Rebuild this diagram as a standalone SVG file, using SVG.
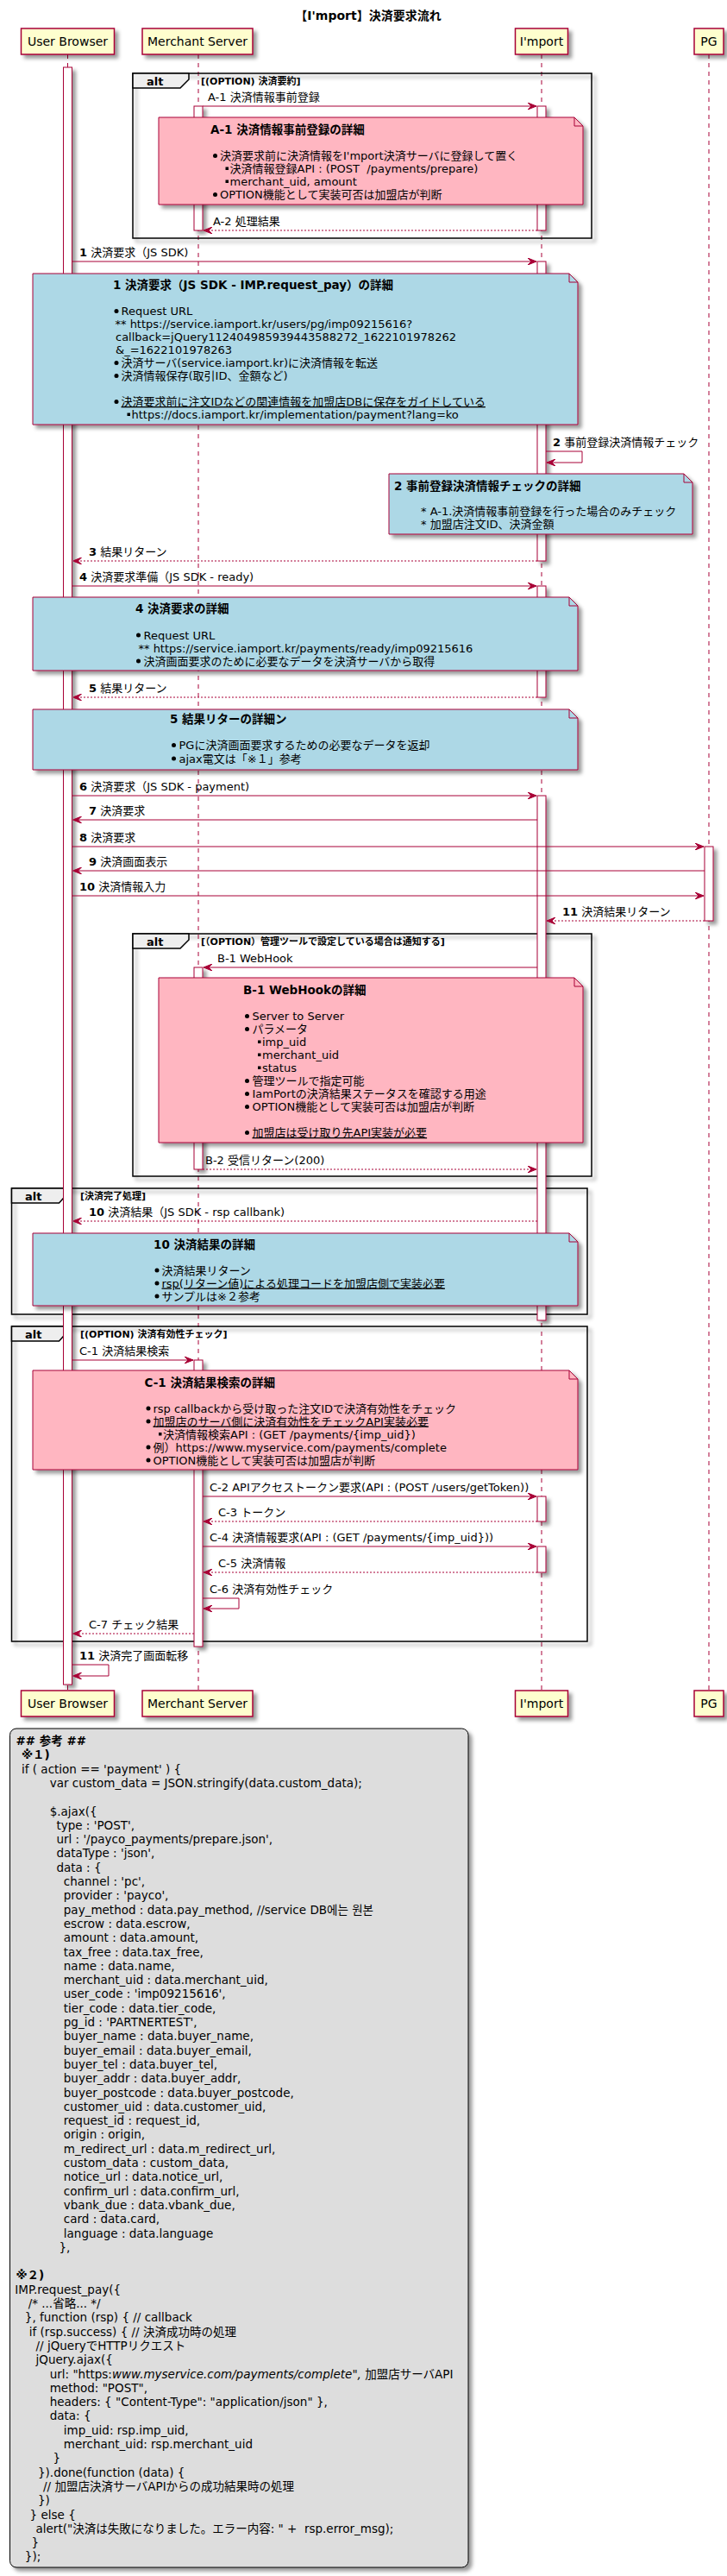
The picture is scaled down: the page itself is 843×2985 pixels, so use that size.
<svg xmlns="http://www.w3.org/2000/svg" width="843" height="2985" viewBox="0 0 843 2985">
<defs>
<filter id="sh" x="-1" y="-1" width="300%" height="300%">
<feGaussianBlur result="b1" stdDeviation="2"/>
<feColorMatrix in="b1" result="b2" type="matrix" values="0 0 0 0 0 0 0 0 0 0 0 0 0 0 0 0 0 0 .4 0"/>
<feOffset dx="4" dy="4" in="b2" result="b3"/>
<feBlend in="SourceGraphic" in2="b3" mode="normal"/>
</filter>
<marker id="ah" viewBox="0 0 10 8" refX="10" refY="4" markerWidth="10" markerHeight="8" markerUnits="userSpaceOnUse" orient="auto">
<path d="M0,0 L10,4 L0,8 L4,4 Z" fill="#A80036" stroke="#A80036" stroke-width="1"/>
</marker>
</defs>
<style>
text{font-family:"DejaVu Sans","Noto Sans CJK JP",sans-serif;font-size:13px;fill:#000}
.title{font-size:14px;font-weight:bold}
.pbox{fill:#FEFECE;stroke:#A80036;stroke-width:1.5;filter:url(#sh)}
.pt{font-size:14px;text-anchor:middle}
.life{stroke:#A80036;stroke-width:1;stroke-dasharray:5,5}
.act{fill:#FFFFFF;stroke:#A80036;stroke-width:1;filter:url(#sh)}
.msg{stroke:#A80036;stroke-width:1;fill:none;marker-end:url(#ah)}
.dash{stroke-dasharray:2,2}
.frame{fill:none;stroke:#000;stroke-width:1.5;filter:url(#sh)}
.tab{fill:#EEEEEE;stroke:#000;stroke-width:1.5}
.alt{font-weight:bold}
.cond{font-size:11px;font-weight:bold}
.nb{fill:#ADD8E6;stroke:#A80036;stroke-width:1;filter:url(#sh)}
.np{fill:#FFB6C1;stroke:#A80036;stroke-width:1;filter:url(#sh)}
.fold{fill:none;stroke:#A80036;stroke-width:1}
.nt{font-size:13.5px;font-weight:bold}
.b{font-weight:bold}
.u{text-decoration:underline}
.dot{fill:#000}
.lgbox{fill:#DDDDDD;stroke:#000;stroke-width:1;filter:url(#sh)}
.lg{font-size:13.5px;white-space:pre}
.lgb{font-size:13.5px;font-weight:bold;white-space:pre}
.pre{white-space:pre}
</style>
<rect x="0" y="0" width="843" height="2985" fill="#FFFFFF"/>
<text class="title" x="427" y="23" text-anchor="middle">【I'mport】決済要求流れ</text>

<g id="lifelines">
<line class="life" x1="78.5" y1="63" x2="78.5" y2="1959"/>
<line class="life" x1="230" y1="63" x2="230" y2="1959"/>
<line class="life" x1="628" y1="63" x2="628" y2="1959"/>
<line class="life" x1="822" y1="63" x2="822" y2="1959"/>
</g>

<g id="frame-alt1">
<rect class="frame" x="154" y="85" width="532" height="191"/>
<polygon class="tab" points="154,85 219,85 219,92 209,102 154,102"/>
<text class="alt" x="170" y="98.5">alt</text>
<text class="cond" x="233" y="97.5">[(OPTION) 決済要約]</text>
</g>
<g id="frame-alt2">
<rect class="frame" x="154" y="1082" width="532" height="281"/>
<polygon class="tab" points="154,1082 219,1082 219,1089 209,1099 154,1099"/>
<text class="alt" x="170" y="1095.5">alt</text>
<text class="cond" x="233" y="1094.5">[（OPTION）管理ツールで設定している場合は通知する]</text>
</g>
<g id="frame-alt3">
<rect class="frame" x="13.5" y="1377" width="667.5" height="146"/>
<polygon class="tab" points="13.5,1377 77.5,1377 77.5,1384 68.5,1394 13.5,1394"/>
<text class="alt" x="29" y="1390.5">alt</text>
<text class="cond" x="93" y="1389.5">[決済完了処理]</text>
</g>
<g id="frame-alt4">
<rect class="frame" x="13.5" y="1537" width="667.5" height="365"/>
<polygon class="tab" points="13.5,1537 77.5,1537 77.5,1544 68.5,1554 13.5,1554"/>
<text class="alt" x="29" y="1550.5">alt</text>
<text class="cond" x="93" y="1549.5">[(OPTION) 決済有効性チェック]</text>
</g>

<g id="activations">
<rect class="act" x="73.5" y="78" width="10" height="1874"/>
<rect class="act" x="225" y="123" width="10" height="144"/>
<rect class="act" x="225" y="1121" width="10" height="234"/>
<rect class="act" x="225" y="1576" width="10" height="332"/>
<rect class="act" x="623" y="123" width="10" height="144"/>
<rect class="act" x="623" y="303" width="10" height="347"/>
<rect class="act" x="623" y="679" width="10" height="129"/>
<rect class="act" x="623" y="922" width="10" height="608"/>
<rect class="act" x="623" y="1734" width="10" height="29"/>
<rect class="act" x="623" y="1792" width="10" height="30"/>
<rect class="act" x="817" y="981" width="10" height="86"/>
</g>

<g id="note-a1">
<path class="np" d="M184,136 H666 L676,146 V237 H184 Z"/>
<path class="fold" d="M666,136 V146 H676"/>
<text class="nt" x="244" y="155">A-1 決済情報事前登録の詳細</text>
<circle class="dot" cx="249.5" cy="180.5" r="2.5"/>
<text x="255" y="185">決済要求前に決済情報をI'mport決済サーバに登録して置く</text>
<rect class="dot" x="261.5" y="193.5" width="3.5" height="3.5"/>
<text class="pre" x="266.5" y="200">決済情報登録API : (POST  /payments/prepare)</text>
<rect class="dot" x="261.5" y="208.5" width="3.5" height="3.5"/>
<text x="266.5" y="215">merchant_uid, amount</text>
<circle class="dot" cx="249.5" cy="225.5" r="2.5"/>
<text x="255" y="230">OPTION機能として実装可否は加盟店が判断</text>
</g>

<g id="note-1">
<path class="nb" d="M38,317 H660 L670,327 V492 H38 Z"/>
<path class="fold" d="M660,317 V327 H670"/>
<text class="nt" x="131" y="335">1 決済要求（JS SDK - IMP.request_pay）の詳細</text>
<circle class="dot" cx="135" cy="360.5" r="2.5"/>
<text x="140.5" y="365">Request URL</text>
<text x="133.5" y="380">** https://service.iamport.kr/users/pg/imp09215616?</text>
<text x="134" y="395">callback=jQuery112404985939443588272_1622101978262</text>
<text x="134" y="410">&amp;_=1622101978263</text>
<circle class="dot" cx="135" cy="420.5" r="2.5"/>
<text x="140.5" y="425">決済サーバ(service.iamport.kr)に決済情報を転送</text>
<circle class="dot" cx="135" cy="435.5" r="2.5"/>
<text x="140.5" y="440">決済情報保存(取引ID、金額など)</text>
<circle class="dot" cx="135" cy="465.5" r="2.5"/>
<text class="u" x="140.5" y="470">決済要求前に注文IDなどの関連情報を加盟店DBに保存をガイドしている</text>
<rect class="dot" x="147.5" y="478.5" width="3.5" height="3.5"/>
<text x="152.5" y="485">https://docs.iamport.kr/implementation/payment?lang=ko</text>
</g>

<g id="note-2">
<path class="nb" d="M451,549 H793 L803,559 V619 H451 Z"/>
<path class="fold" d="M793,549 V559 H803"/>
<text class="nt" x="457" y="567.5">2 事前登録決済情報チェックの詳細</text>
<text x="488" y="597">* A-1.決済情報事前登録を行った場合のみチェック</text>
<text x="488" y="612">* 加盟店注文ID、決済金額</text>
</g>

<g id="note-4">
<path class="nb" d="M38,692 H660 L670,702 V777 H38 Z"/>
<path class="fold" d="M660,692 V702 H670"/>
<text class="nt" x="157" y="710">4 決済要求の詳細</text>
<circle class="dot" cx="160.5" cy="736" r="2.5"/>
<text x="166.5" y="740.5">Request URL</text>
<text x="160.5" y="755.5">** https://service.iamport.kr/payments/ready/imp09215616</text>
<circle class="dot" cx="160.5" cy="766" r="2.5"/>
<text x="166.5" y="770.5">決済画面要求のために必要なデータを決済サーバから取得</text>
</g>

<g id="note-5">
<path class="nb" d="M38,822 H660 L670,832 V892 H38 Z"/>
<path class="fold" d="M660,822 V832 H670"/>
<text class="nt" x="197" y="838">5 結果リターの詳細ン</text>
<circle class="dot" cx="201.5" cy="863.5" r="2.5"/>
<text x="207.5" y="868">PGに決済画面要求するための必要なデータを返却</text>
<circle class="dot" cx="201.5" cy="879" r="2.5"/>
<text x="207.5" y="883.5">ajax電文は「※１」参考</text>
</g>

<g id="note-b1">
<path class="np" d="M184,1133 H666 L676,1143 V1324 H184 Z"/>
<path class="fold" d="M666,1133 V1143 H676"/>
<text class="nt" x="282" y="1152">B-1 WebHookの詳細</text>
<circle class="dot" cx="286.5" cy="1177.5" r="2.5"/>
<text x="292.5" y="1182">Server to Server</text>
<circle class="dot" cx="286.5" cy="1192.5" r="2.5"/>
<text x="292.5" y="1197">パラメータ</text>
<rect class="dot" x="299" y="1205.5" width="3.5" height="3.5"/>
<text x="304" y="1212">imp_uid</text>
<rect class="dot" x="299" y="1220.5" width="3.5" height="3.5"/>
<text x="304" y="1227">merchant_uid</text>
<rect class="dot" x="299" y="1235.5" width="3.5" height="3.5"/>
<text x="304" y="1242">status</text>
<circle class="dot" cx="286.5" cy="1252.5" r="2.5"/>
<text x="292.5" y="1257">管理ツールで指定可能</text>
<circle class="dot" cx="286.5" cy="1267.5" r="2.5"/>
<text x="292.5" y="1272">IamPortの決済結果ステータスを確認する用途</text>
<circle class="dot" cx="286.5" cy="1282.5" r="2.5"/>
<text x="292.5" y="1287">OPTION機能として実装可否は加盟店が判断</text>
<circle class="dot" cx="286.5" cy="1312.5" r="2.5"/>
<text class="u" x="292.5" y="1317">加盟店は受け取り先API実装が必要</text>
</g>

<g id="note-10">
<path class="nb" d="M38,1429 H660 L670,1439 V1513 H38 Z"/>
<path class="fold" d="M660,1429 V1439 H670"/>
<text class="nt" x="178" y="1446.5">10 決済結果の詳細</text>
<circle class="dot" cx="182" cy="1472" r="2.5"/>
<text x="187.5" y="1476.5">決済結果リターン</text>
<circle class="dot" cx="182" cy="1487" r="2.5"/>
<text class="u" x="187.5" y="1491.5">rsp(リターン値)による処理コードを加盟店側で実装必要</text>
<circle class="dot" cx="182" cy="1502" r="2.5"/>
<text x="187.5" y="1506.5">サンプルは※２参考</text>
</g>

<g id="note-c1">
<path class="np" d="M38,1588 H660 L670,1598 V1703 H38 Z"/>
<path class="fold" d="M660,1588 V1598 H670"/>
<text class="nt" x="167.5" y="1606.5">C-1 決済結果検索の詳細</text>
<circle class="dot" cx="172" cy="1632" r="2.5"/>
<text x="177.5" y="1636.5">rsp callbackから受け取った注文IDで決済有効性をチェック</text>
<circle class="dot" cx="172" cy="1647" r="2.5"/>
<text class="u" x="177.5" y="1651.5">加盟店のサーバ側に決済有効性をチェックAPI実装必要</text>
<rect class="dot" x="184" y="1660" width="3.5" height="3.5"/>
<text x="189" y="1666.5">決済情報検索API : (GET /payments/{imp_uid})</text>
<circle class="dot" cx="172" cy="1677" r="2.5"/>
<text x="177.5" y="1681.5">例）https://www.myservice.com/payments/complete</text>
<circle class="dot" cx="172" cy="1692" r="2.5"/>
<text x="177.5" y="1696.5">OPTION機能として実装可否は加盟店が判断</text>
</g>

<g id="connectors">
<line class="msg" x1="235" y1="123" x2="622" y2="123"/>
<text x="241" y="117">A-1 決済情報事前登録</text>
<line class="msg dash" x1="623" y1="267" x2="236" y2="267"/>
<text x="247" y="261">A-2 処理結果</text>
<line class="msg" x1="83.5" y1="303" x2="622" y2="303"/>
<text x="92" y="297"><tspan class="b">1</tspan> 決済要求（JS SDK)</text>
<polyline class="msg" points="633,523 675,523 675,536 634,536"/>
<text x="641" y="517"><tspan class="b">2</tspan> 事前登録決済情報チェック</text>
<line class="msg dash" x1="623" y1="650" x2="84.5" y2="650"/>
<text x="103" y="644"><tspan class="b">3</tspan> 結果リターン</text>
<line class="msg" x1="83.5" y1="679" x2="622" y2="679"/>
<text x="92" y="673"><tspan class="b">4</tspan> 決済要求準備（JS SDK - ready)</text>
<line class="msg dash" x1="623" y1="808" x2="84.5" y2="808"/>
<text x="103" y="802"><tspan class="b">5</tspan> 結果リターン</text>
<line class="msg" x1="83.5" y1="922" x2="622" y2="922"/>
<text x="92" y="916"><tspan class="b">6</tspan> 決済要求（JS SDK - payment)</text>
<line class="msg" x1="623" y1="950" x2="84.5" y2="950"/>
<text x="103" y="944"><tspan class="b">7</tspan> 決済要求</text>
<line class="msg" x1="83.5" y1="981" x2="816" y2="981"/>
<text x="92" y="975"><tspan class="b">8</tspan> 決済要求</text>
<line class="msg" x1="817" y1="1009" x2="84.5" y2="1009"/>
<text x="103" y="1003"><tspan class="b">9</tspan> 決済画面表示</text>
<line class="msg" x1="83.5" y1="1038" x2="816" y2="1038"/>
<text x="92" y="1032"><tspan class="b">10</tspan> 決済情報入力</text>
<line class="msg dash" x1="817" y1="1067" x2="634" y2="1067"/>
<text x="652" y="1061"><tspan class="b">11</tspan> 決済結果リターン</text>
<line class="msg" x1="623" y1="1121" x2="236" y2="1121"/>
<text x="252" y="1115">B-1 WebHook</text>
<line class="msg dash" x1="235" y1="1355" x2="622" y2="1355"/>
<text x="238" y="1349">B-2 受信リターン(200)</text>
<line class="msg dash" x1="623" y1="1415" x2="84.5" y2="1415"/>
<text x="103" y="1409"><tspan class="b">10</tspan> 決済結果（JS SDK - rsp callbank)</text>
<line class="msg" x1="83.5" y1="1576" x2="224" y2="1576"/>
<text x="92" y="1570">C-1 決済結果検索</text>
<line class="msg" x1="235" y1="1734" x2="622" y2="1734"/>
<text x="243" y="1728">C-2 APIアクセストークン要求(API : (POST /users/getToken))</text>
<line class="msg dash" x1="623" y1="1763" x2="236" y2="1763"/>
<text x="253" y="1757">C-3 トークン</text>
<line class="msg" x1="235" y1="1792" x2="622" y2="1792"/>
<text x="243" y="1786">C-4 決済情報要求(API : (GET /payments/{imp_uid}))</text>
<line class="msg dash" x1="623" y1="1822" x2="236" y2="1822"/>
<text x="253" y="1816">C-5 決済情報</text>
<polyline class="msg" points="235,1852 277,1852 277,1864 236,1864"/>
<text x="243" y="1846">C-6 決済有効性チェック</text>
<line class="msg dash" x1="225" y1="1893" x2="84.5" y2="1893"/>
<text x="103" y="1887">C-7 チェック結果</text>
<polyline class="msg" points="83.5,1929 126,1929 126,1942 84.5,1942"/>
<text x="92" y="1923"><tspan class="b">11</tspan> 決済完了画面転移</text>
</g>

<g id="p-userbrowser">
<rect class="pbox" x="24.5" y="33" width="108" height="30"/>
<text class="pt" x="78.5" y="53">User Browser</text>
<rect class="pbox" x="24.5" y="1959" width="108" height="30"/>
<text class="pt" x="78.5" y="1979">User Browser</text>
</g>
<g id="p-merchant">
<rect class="pbox" x="165" y="33" width="128" height="30"/>
<text class="pt" x="229" y="53">Merchant Server</text>
<rect class="pbox" x="165" y="1959" width="128" height="30"/>
<text class="pt" x="229" y="1979">Merchant Server</text>
</g>
<g id="p-import">
<rect class="pbox" x="597.5" y="33" width="61" height="30"/>
<text class="pt" x="628" y="53">I'mport</text>
<rect class="pbox" x="597.5" y="1959" width="61" height="30"/>
<text class="pt" x="628" y="1979">I'mport</text>
</g>
<g id="p-pg">
<rect class="pbox" x="805" y="33" width="34" height="30"/>
<text class="pt" x="822" y="53">PG</text>
<rect class="pbox" x="805" y="1959" width="34" height="30"/>
<text class="pt" x="822" y="1979">PG</text>
</g>

<g id="legend">
<rect class="lgbox" x="11.5" y="2003" width="531.5" height="972" rx="7.5" ry="7.5"/>
<text class="lgb" x="18.5" y="2022">## 参考 ##</text>
<text class="lgb" x="25" y="2038.3">※１)</text>
<text class="lg" x="25" y="2054.6">if ( action == 'payment' ) {</text>
<text class="lg" x="57.7" y="2070.9">var custom_data = JSON.stringify(data.custom_data);</text>
<text class="lg" x="57.7" y="2103.5">$.ajax({</text>
<text class="lg" x="65.4" y="2119.8">type : 'POST',</text>
<text class="lg" x="65.4" y="2136.1">url : '/payco_payments/prepare.json',</text>
<text class="lg" x="65.4" y="2152.4">dataType : 'json',</text>
<text class="lg" x="65.4" y="2168.7">data : {</text>
<text class="lg" x="73.8" y="2185">channel : 'pc',</text>
<text class="lg" x="73.8" y="2201.3">provider : 'payco',</text>
<text class="lg" x="73.8" y="2217.6">pay_method : data.pay_method, //service DB에는 원본</text>
<text class="lg" x="73.8" y="2233.9">escrow : data.escrow,</text>
<text class="lg" x="73.8" y="2250.2">amount : data.amount,</text>
<text class="lg" x="73.8" y="2266.5">tax_free : data.tax_free,</text>
<text class="lg" x="73.8" y="2282.8">name : data.name,</text>
<text class="lg" x="73.8" y="2299.1">merchant_uid : data.merchant_uid,</text>
<text class="lg" x="73.8" y="2315.4">user_code : 'imp09215616',</text>
<text class="lg" x="73.8" y="2331.7">tier_code : data.tier_code,</text>
<text class="lg" x="73.8" y="2348">pg_id : 'PARTNERTEST',</text>
<text class="lg" x="73.8" y="2364.3">buyer_name : data.buyer_name,</text>
<text class="lg" x="73.8" y="2380.6">buyer_email : data.buyer_email,</text>
<text class="lg" x="73.8" y="2396.9">buyer_tel : data.buyer_tel,</text>
<text class="lg" x="73.8" y="2413.2">buyer_addr : data.buyer_addr,</text>
<text class="lg" x="73.8" y="2429.5">buyer_postcode : data.buyer_postcode,</text>
<text class="lg" x="73.8" y="2445.8">customer_uid : data.customer_uid,</text>
<text class="lg" x="73.8" y="2462.1">request_id : request_id,</text>
<text class="lg" x="73.8" y="2478.4">origin : origin,</text>
<text class="lg" x="73.8" y="2494.7">m_redirect_url : data.m_redirect_url,</text>
<text class="lg" x="73.8" y="2511">custom_data : custom_data,</text>
<text class="lg" x="73.8" y="2527.3">notice_url : data.notice_url,</text>
<text class="lg" x="73.8" y="2543.6">confirm_url : data.confirm_url,</text>
<text class="lg" x="73.8" y="2559.9">vbank_due : data.vbank_due,</text>
<text class="lg" x="73.8" y="2576.2">card : data.card,</text>
<text class="lg" x="73.8" y="2592.5">language : data.language</text>
<text class="lg" x="68.5" y="2608.8">},</text>
<text class="lgb" x="18.5" y="2641.4">※２)</text>
<text class="lg" x="17.3" y="2657.7">IMP.request_pay({</text>
<text class="lg" x="32.7" y="2674">/* ...省略... */</text>
<text class="lg" x="28.8" y="2690.3">}, function (rsp) { // callback</text>
<text class="lg" x="33.8" y="2706.6">if (rsp.success) { // 決済成功時の処理</text>
<text class="lg" x="41.5" y="2722.9">// jQueryでHTTPリクエスト</text>
<text class="lg" x="41.5" y="2739.2">jQuery.ajax({</text>
<text class="lg" x="57.7" y="2755.5">url: "https:<tspan font-style="italic">www.myservice.com/payments/complete", </tspan>加盟店サーバAPI</text>
<text class="lg" x="57.7" y="2771.8">method: "POST",</text>
<text class="lg" x="57.7" y="2788.1">headers: { "Content-Type": "application/json" },</text>
<text class="lg" x="57.7" y="2804.4">data: {</text>
<text class="lg" x="73.8" y="2820.7">imp_uid: rsp.imp_uid,</text>
<text class="lg" x="73.8" y="2837">merchant_uid: rsp.merchant_uid</text>
<text class="lg" x="61.5" y="2853.3">}</text>
<text class="lg" x="44" y="2869.6">}).done(function (data) {</text>
<text class="lg" x="50" y="2885.9">// 加盟店決済サーバAPIからの成功結果時の処理</text>
<text class="lg" x="44" y="2902.2">})</text>
<text class="lg" x="34.6" y="2918.5">} else {</text>
<text class="lg" x="41.5" y="2934.8">alert("決済は失敗になりました。エラー内容: " +  rsp.error_msg);</text>
<text class="lg" x="36.5" y="2951.1">}</text>
<text class="lg" x="28.8" y="2967.4">});</text>
</g>
</svg>
